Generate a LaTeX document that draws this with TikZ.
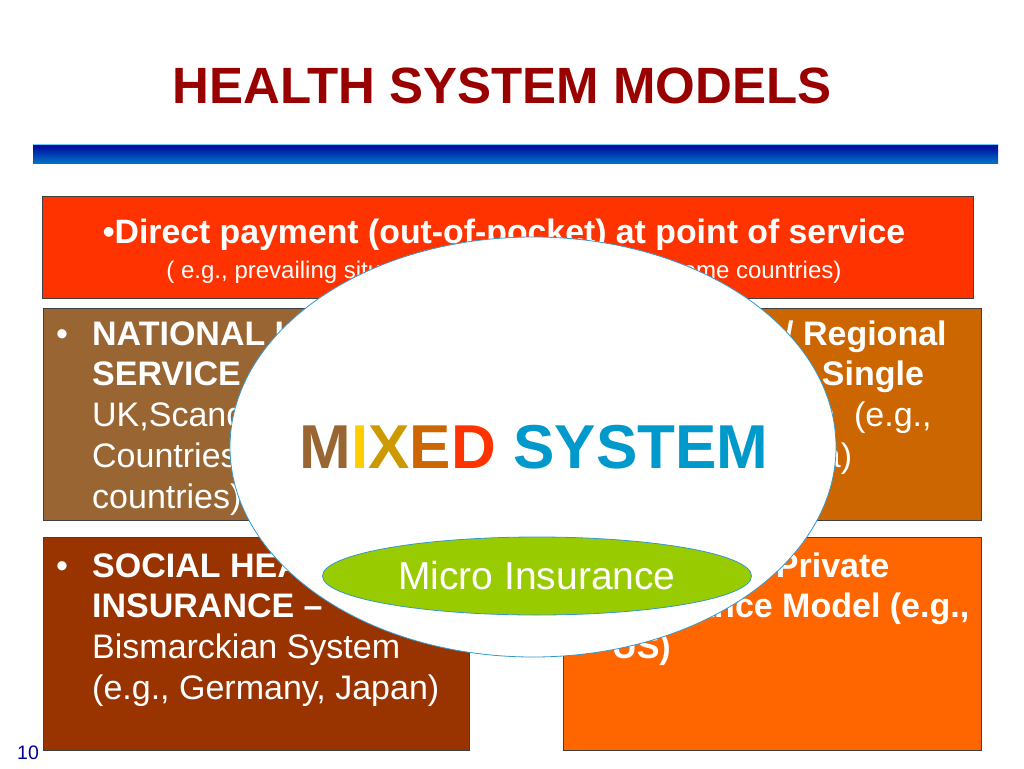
\documentclass[tikz,border=0pt]{standalone}
\usepackage{fontspec}
\setmainfont{Liberation Sans}
\usetikzlibrary{shapes.geometric}
\definecolor{titlered}{HTML}{990000}
\definecolor{bardark}{HTML}{000099}
\definecolor{barlight}{HTML}{0072C6}
\definecolor{barrim}{HTML}{66CCFF}
\definecolor{payred}{HTML}{FF3300}
\definecolor{nhsbrown}{HTML}{996633}
\definecolor{nhiorange}{HTML}{CC6600}
\definecolor{shirust}{HTML}{993300}
\definecolor{privorange}{HTML}{FF6600}
\definecolor{mixyellow}{HTML}{FFCC00}
\definecolor{mixgold}{HTML}{CC9900}
\definecolor{sysblue}{HTML}{0099CC}
\definecolor{microgreen}{HTML}{99CC00}
\definecolor{edgeblue}{HTML}{3399CC}
\definecolor{pageblue}{HTML}{000099}

\begin{document}
\begin{tikzpicture}[x=1pt, y=-1pt,
    every node/.style={inner sep=0pt},
    box/.style={draw=black!75, line width=0.6pt},
    body/.style={text=white, align=left, anchor=base west, font=\fontsize{34}{40.8}\selectfont},
    dot/.style={text=white, anchor=base, font=\fontsize{34}{40.8}\selectfont},
    oval/.style={ellipse, draw=edgeblue, line width=0.8pt},
]
\useasboundingbox (0,0) rectangle (1024,768);
\fill[white] (0,0) rectangle (1024,768);

% ============================================================ title and bar
\node[text=titlered, anchor=base, font=\fontsize{51}{60}\selectfont\bfseries] (title) at (502,103) {HEALTH SYSTEM MODELS};
\shade[top color=bardark, bottom color=barlight] (33,144) rectangle (998,163);
\draw[barrim, line width=0.8pt] (33,144) -- (998,144);

% ============================================================ direct payment
\draw[box, fill=payred] (42,196) rectangle (973,298);
\node[text=white, anchor=base, font=\fontsize{33.8}{40}\selectfont\bfseries] (pay) at (504,243)
    {\textbullet Direct payment (out-of-pocket) at point of service};
\node[text=white, anchor=base, font=\fontsize{24}{29}\selectfont] (payeg) at (504,278)
    {( e.g., prevailing situation in poor countries and some countries)};

% ============================================================ four models
% (each text is pinned at the baseline of its last line)
\draw[box, fill=nhsbrown] (43,308) rectangle (500,520);
\node[dot] (nhsdot) at (62,345) {\textbullet};
\node[body] (nhs) at (92,508.2)
    {\textbf{NATIONAL HEALTH}\\ \textbf{SERVICE} (e.g.,\\ UK,Scandinavian\\ Countries, Socialist\\ countries)};

\draw[box, fill=nhiorange] (545,308) rectangle (981,520);
\node[dot] (nhidot) at (582,345) {\textbullet};
\node[body] (nhi) at (612,467.4)
    {\textbf{Provincial / Regional}\\ \textbf{Government Single}\\ \textbf{Payer System}\ \ (e.g.,\\ Canada, Korea)};

\draw[box, fill=shirust] (43,537) rectangle (469,750);
\node[dot] (shidot) at (62,577) {\textbullet};
\node[body] (shi) at (92,699.4)
    {\textbf{SOCIAL HEALTH}\\ \textbf{INSURANCE --}\\ Bismarckian System\\ (e.g., Germany, Japan)};

\draw[box, fill=privorange] (563,537) rectangle (981,750);
\node[dot] (privdot) at (582,577) {\textbullet};
\node[body] (priv) at (612,658.6)
    {\textbf{Voluntary Private}\\ \textbf{Insurance Model (e.g.,}\\ \textbf{US)}};

% ============================================================ the mix
\draw[edgeblue, fill=white, line width=0.8pt] (533,447) ellipse [x radius=303, y radius=210];
\node[font=\fontsize{62}{70}\selectfont\bfseries] (mixed) at (534,447)
    {{\color{nhsbrown}M}{\color{mixyellow}I}{\color{mixgold}X}{\color{nhiorange}E}{\color{payred}D} {\color{sysblue}SYSTEM}};
\node[oval, fill=microgreen, minimum width=429pt, minimum height=78pt,
      text=white, font=\fontsize{39}{45}\selectfont] (micro) at (537,576) {Micro Insurance};

\node[text=pageblue, anchor=base west, font=\fontsize{19.5}{23}\selectfont] (page) at (17,759) {10};

\end{tikzpicture}
\end{document}
